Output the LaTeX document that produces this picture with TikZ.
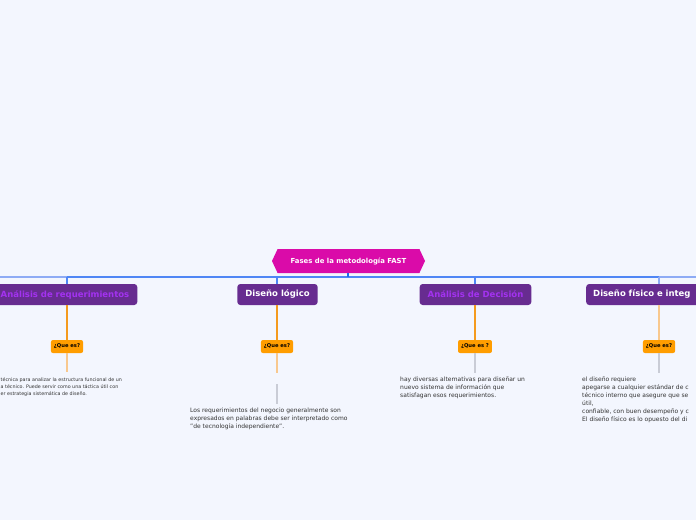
\documentclass[tikz,border=0pt]{standalone}
\usepackage{fontspec}
\setmainfont{DejaVu Sans}
\usetikzlibrary{shapes.symbols}
\definecolor{bg}{HTML}{F3F6FE}
\definecolor{hub}{HTML}{DA0BA9}
\definecolor{branch}{HTML}{672C90}
\definecolor{branchtxt}{HTML}{A332F0}
\definecolor{qfill}{HTML}{FF9D00}
\definecolor{qline}{HTML}{F49A1E}
\definecolor{qfade}{HTML}{F8C88E}
\definecolor{busdark}{HTML}{4F86F5}
\definecolor{buslight}{HTML}{8EABF5}
\definecolor{hubline}{HTML}{1F6BEA}
\definecolor{grayline}{HTML}{C9CCD6}
\definecolor{bodytxt}{HTML}{333333}
\tikzset{
  hubbox/.style={shape=signal, signal to=west and east, signal pointer angle=130,
    fill=hub, text=white, font=\bfseries\fontsize{6.9}{8}\selectfont,
    minimum width=153pt, minimum height=24pt, inner sep=0pt},
  branchbox/.style={fill=branch, rounded corners=3pt, minimum height=21pt,
    inner xsep=8pt, inner ysep=0pt, font=\bfseries\fontsize{8.5}{10}\selectfont},
  qbox/.style={fill=qfill, rounded corners=2pt, minimum height=13pt, inner xsep=3pt,
    inner ysep=0pt, font=\bfseries\fontsize{5.2}{6}\selectfont, text=black},
  bodytext/.style={anchor=north west, align=left, inner sep=0pt, text=bodytxt,
    font=\fontsize{6}{8}\selectfont},
  smalltext/.style={anchor=north west, align=left, inner sep=0pt, text=bodytxt,
    font=\fontsize{4.8}{7}\selectfont},
  busconn/.style={draw=busdark, line width=2pt},
  buslightconn/.style={draw=buslight, line width=2pt},
  dropconn/.style={draw=busdark, line width=1.2pt},
  droplightconn/.style={draw=buslight, line width=1.2pt},
  hubconn/.style={draw=hubline, line width=1.6pt},
  qconn/.style={draw=qline, line width=1.2pt},
  fadeconn/.style={draw=qfade, line width=1.2pt},
  grayconn/.style={draw=grayline, line width=1.2pt},
}
\begin{document}
\begin{tikzpicture}[x=1pt,y=-1pt]
\useasboundingbox (0,0) rectangle (696,520);
\clip (0,0) rectangle (696,520);
\fill[bg] (0,0) rectangle (696,520);

% hub
\node[hubbox] (hub) at (348.5,261) {Fases de la metodología FAST};

% bus coordinates
\coordinate (busL) at (-5,277);
\coordinate (b1) at (67,277);
\coordinate (bh) at (348,277);
\coordinate (b2) at (277,277);
\coordinate (b3) at (475,277);
\coordinate (b4) at (659,277);
\coordinate (busR) at (701,277);

\draw[buslightconn] (busL) -- (b1);
\draw[busconn] (b1) -- (b4);
\draw[buslightconn] (b4) -- (busR);
\draw[hubconn] (hub.south -| bh) -- (bh);

% branches
\node[branchbox, text=branchtxt] (n1) at (65,294.5) {Análisis de requerimientos};
\node[branchbox, text=white] (n2) at (277.5,294.5) {Diseño lógico};
\node[branchbox, text=branchtxt] (n3) at (475.5,294.5) {Análisis de Decisión};
\node[branchbox, text=white, anchor=west, text width=136pt, align=left, inner xsep=7pt] (n4) at (586,294.5) {Diseño físico e integ};

\draw[dropconn] (b1) -- (b1 |- n1.north);
\draw[dropconn] (b2) -- (b2 |- n2.north);
\draw[dropconn] (b3) -- (b3 |- n3.north);
\draw[droplightconn] (b4) -- (b4 |- n4.north);

% que es nodes
\node[qbox] (q1) at (67,346.5) {¿Que es?};
\node[qbox] (q2) at (277,346.5) {¿Que es?};
\node[qbox] (q3) at (475,346.5) {¿Que es ?};
\node[qbox] (q4) at (659,346.5) {¿Que es?};

\draw[qconn] (q1.north |- n1.south) -- (q1.north);
\draw[qconn] (q2.north |- n2.south) -- (q2.north);
\draw[qconn] (q3.north |- n3.south) -- (q3.north);
\draw[fadeconn] (q4.north |- n4.south) -- (q4.north);

% text blocks
\node[smalltext] (t1) at (0.5,377.5) {técnica para analizar la estructura funcional de un\\
a técnico. Puede servir como una táctica útil con\\
er estrategia sistemática de diseño.};
\node[bodytext] (t2) at (190,407.5) {Los requerimientos del negocio generalmente son\\
expresados en palabras debe ser interpretado como\\
"de tecnología independiente".};
\node[bodytext] (t3) at (400,376.5) {hay diversas alternativas para diseñar un\\
nuevo sistema de información que\\
satisfagan esos requerimientos.};
\node[bodytext] (t4) at (582,376.5) {el diseño requiere\\
apegarse a cualquier estándar de c\\
técnico interno que asegure que se\\
útil,\\
confiable, con buen desempeño y c\\
El diseño físico es lo opuesto del di};

\coordinate (e1) at (67,372);
\coordinate (e2a) at (277,373);
\coordinate (e2b) at (277,384);
\coordinate (e2c) at (277,404);
\coordinate (e3) at (475,373);
\coordinate (e4) at (659,373);
\draw[fadeconn] (q1.south) -- (e1);
\draw[fadeconn] (q2.south) -- (e2a);
\draw[grayconn] (e2b) -- (e2c);
\draw[grayconn] (q3.south) -- (e3);
\draw[grayconn] (q4.south) -- (e4);
\end{tikzpicture}
\end{document}
